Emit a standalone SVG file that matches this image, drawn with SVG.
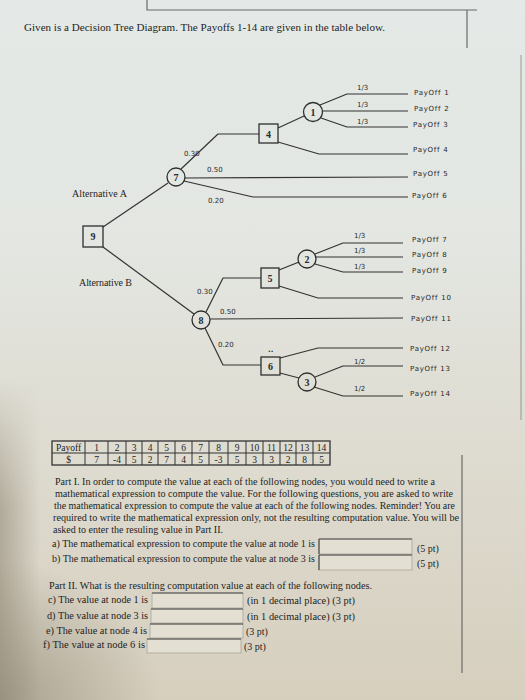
<svg xmlns="http://www.w3.org/2000/svg" width="525" height="700" viewBox="0 0 525 700">
<defs>
<linearGradient id="bg" x1="0" y1="0" x2="0" y2="1">
<stop offset="0" stop-color="#e4e9e7"/>
<stop offset="0.35" stop-color="#e3e6e1"/>
<stop offset="0.65" stop-color="#dedbd0"/>
<stop offset="1" stop-color="#d6cfbe"/>
</linearGradient>
<linearGradient id="shadeL" x1="0" y1="0" x2="1" y2="0">
<stop offset="0" stop-color="#9e9684" stop-opacity="0.7"/>
<stop offset="1" stop-color="#9e9684" stop-opacity="0"/>
</linearGradient>
<linearGradient id="fadeV" x1="0" y1="0" x2="0" y2="1">
<stop offset="0" stop-color="#fff" stop-opacity="0"/>
<stop offset="0.4" stop-color="#fff" stop-opacity="1"/>
<stop offset="1" stop-color="#fff" stop-opacity="1"/>
</linearGradient>
<mask id="m" maskUnits="userSpaceOnUse" x="0" y="380" width="40" height="320">
<rect x="0" y="380" width="40" height="320" fill="url(#fadeV)"/>
</mask>
<radialGradient id="shadeBL" cx="0" cy="1" r="1">
<stop offset="0" stop-color="#8f8775" stop-opacity="0.65"/>
<stop offset="1" stop-color="#8f8775" stop-opacity="0"/>
</radialGradient>
<style>
.ln{fill:none;stroke:#333;stroke-width:1.2;stroke-linejoin:round}
.nd{fill:none;stroke:#2e2e2e;stroke-width:1.3}
.nt{font-family:"Liberation Serif",serif;font-size:10px;font-weight:bold;fill:#2a2a2a;text-anchor:middle}
.po{font-family:"DejaVu Sans",sans-serif;font-size:7px;letter-spacing:0.75px;fill:#262626}
.pr{font-family:"DejaVu Sans",sans-serif;font-size:7px;fill:#2a2a2a}
.tx{font-family:"Liberation Serif",serif;font-size:10px;fill:#1e1e1e}
.tb{font-family:"Liberation Serif",serif;font-size:9.5px;fill:#1e1e1e;text-anchor:middle}
.box{fill:#e3dfd3;stroke:#a9a59a;stroke-width:0.8}
.boxt{stroke:#4a4a4a;stroke-width:1.2}
.edge{stroke:#6a6a66;stroke-width:1.2;fill:none}
</style>
</defs>
<rect width="525" height="700" fill="url(#bg)"/>
<rect x="0" y="380" width="40" height="320" fill="url(#shadeL)" mask="url(#m)"/>
<rect x="0" y="560" width="160" height="140" fill="url(#shadeBL)"/>
<g id="page-edges">
<polyline class="edge" points="147,0 147,10 477,10"/>
<line class="edge" x1="467" y1="10" x2="467" y2="48"/>
<line class="edge" x1="521" y1="55" x2="521" y2="420" stroke-opacity="0.5"/>
<line class="edge" x1="462" y1="455" x2="462" y2="673"/>
</g>
<text class="tx" x="24" y="30.5" font-size="10.5" textLength="361" lengthAdjust="spacingAndGlyphs">Given is a Decision Tree Diagram. The Payoffs 1-14 are given in the table below.</text>

<g id="connectors">
<polyline class="ln" points="103,227 168,183"/>
<polyline class="ln" points="103,247 194,314"/>
<polyline class="ln" points="181,169 218,134 259,134"/>
<polyline class="ln" points="278,128 304,116"/>
<polyline class="ln" points="320,105 347,94 408,94"/>
<polyline class="ln" points="323,111 408,111"/>
<polyline class="ln" points="321,118 347,127 408,127"/>
<polyline class="ln" points="278,142 319,154 408,154"/>
<polyline class="ln" points="185,178 408,177"/>
<polyline class="ln" points="184,181 253,197 408,197"/>
<polyline class="ln" points="206,312 223,278 261,278"/>
<polyline class="ln" points="279,270 299,262"/>
<polyline class="ln" points="315,254 343,243 403,243"/>
<polyline class="ln" points="316,257 403,257"/>
<polyline class="ln" points="315,264 343,272 403,272"/>
<polyline class="ln" points="279,286 318,298 403,298"/>
<polyline class="ln" points="210,319 403,318"/>
<polyline class="ln" points="205,328 223,365 261,365"/>
<polyline class="ln" points="280,358 318,348 403,348"/>
<polyline class="ln" points="280,373 299,378"/>
<polyline class="ln" points="315,377 343,366 403,366"/>
<polyline class="ln" points="314,387 343,396 403,396"/>
</g>

<g id="edge-labels">
<text class="pr" x="357" y="90">1/3</text>
<text class="pr" x="357" y="107">1/3</text>
<text class="pr" x="357" y="124">1/3</text>
<text class="pr" x="184" y="156">0.30</text>
<text class="pr" x="207" y="172">0.50</text>
<text class="pr" x="208" y="203">0.20</text>
<text class="pr" x="354" y="238">1/3</text>
<text class="pr" x="354" y="253">1/3</text>
<text class="pr" x="354" y="269">1/3</text>
<text class="pr" x="197" y="294">0.30</text>
<text class="pr" x="220" y="314">0.50</text>
<text class="pr" x="218" y="347">0.20</text>
<text class="pr" x="354" y="364">1/2</text>
<text class="pr" x="354" y="391">1/2</text>
<text class="tx" x="72" y="197" font-size="9" textLength="55">Alternative A</text>
<text class="tx" x="79" y="286" font-size="9" textLength="53">Alternative B</text>
<text class="pr" x="268" y="352" font-weight="bold">..</text>
</g>

<g id="payoffs">
<text class="po" x="414" y="94.5">PayOff 1</text>
<text class="po" x="414" y="110.5">PayOff 2</text>
<text class="po" x="413" y="126.5">PayOff 3</text>
<text class="po" x="413" y="151.5">PayOff 4</text>
<text class="po" x="413" y="175.5">PayOff 5</text>
<text class="po" x="412" y="197.5">PayOff 6</text>
<text class="po" x="412" y="241.5">PayOff 7</text>
<text class="po" x="412" y="256.5">PayOff 8</text>
<text class="po" x="412" y="272.5">PayOff 9</text>
<text class="po" x="411" y="299.5">PayOff 10</text>
<text class="po" x="411" y="320.5">PayOff 11</text>
<text class="po" x="410" y="350.5">PayOff 12</text>
<text class="po" x="410" y="370.5">PayOff 13</text>
<text class="po" x="410" y="395.5">PayOff 14</text>
</g>

<g id="node9"><rect class="nd" x="83" y="226" width="20" height="21"/><text class="nt" x="93" y="240">9</text></g>
<g id="node7"><circle class="nd" cx="176" cy="177" r="9"/><text class="nt" x="176" y="180.5">7</text></g>
<g id="node4"><rect class="nd" x="259" y="124" width="19" height="19"/><text class="nt" x="268.5" y="137.5">4</text></g>
<g id="node1"><circle class="nd" cx="313" cy="112" r="9.5"/><text class="nt" x="313" y="115.5">1</text></g>
<g id="node8"><circle class="nd" cx="201" cy="320" r="9"/><text class="nt" x="201" y="323.5">8</text></g>
<g id="node5"><rect class="nd" x="261" y="268" width="18" height="20"/><text class="nt" x="270" y="282">5</text></g>
<g id="node2"><circle class="nd" cx="307" cy="259" r="9"/><text class="nt" x="307" y="262.5">2</text></g>
<g id="node6"><rect class="nd" x="261" y="357" width="19" height="18"/><text class="nt" x="270.5" y="370">6</text></g>
<g id="node3"><circle class="nd" cx="307" cy="382" r="9"/><text class="nt" x="307" y="385.5">3</text></g>

<g id="table">
<rect x="52" y="441" width="278" height="24" fill="none" stroke="#333" stroke-width="1.3"/>
<line x1="52" y1="453" x2="330" y2="453" stroke="#333" stroke-width="1"/>
<g stroke="#333" stroke-width="1">
<line x1="85" y1="441" x2="85" y2="465"/><line x1="108" y1="441" x2="108" y2="465"/>
<line x1="126" y1="441" x2="126" y2="465"/><line x1="142" y1="441" x2="142" y2="465"/>
<line x1="158" y1="441" x2="158" y2="465"/><line x1="175" y1="441" x2="175" y2="465"/>
<line x1="192" y1="441" x2="192" y2="465"/><line x1="209" y1="441" x2="209" y2="465"/>
<line x1="228" y1="441" x2="228" y2="465"/><line x1="246" y1="441" x2="246" y2="465"/>
<line x1="263" y1="441" x2="263" y2="465"/><line x1="280" y1="441" x2="280" y2="465"/>
<line x1="296" y1="441" x2="296" y2="465"/><line x1="313" y1="441" x2="313" y2="465"/>
</g>
<text class="tb" x="68.5" y="450.5">Payoff</text>
<text class="tb" x="96.5" y="450.5">1</text><text class="tb" x="117" y="450.5">2</text>
<text class="tb" x="134" y="450.5">3</text><text class="tb" x="150" y="450.5">4</text>
<text class="tb" x="166.5" y="450.5">5</text><text class="tb" x="183.5" y="450.5">6</text>
<text class="tb" x="200.5" y="450.5">7</text><text class="tb" x="218.5" y="450.5">8</text>
<text class="tb" x="237" y="450.5">9</text><text class="tb" x="254.5" y="450.5">10</text>
<text class="tb" x="271.5" y="450.5">11</text><text class="tb" x="288" y="450.5">12</text>
<text class="tb" x="304.5" y="450.5">13</text><text class="tb" x="321.5" y="450.5">14</text>
<text class="tb" x="68.5" y="462.5">$</text>
<text class="tb" x="96.5" y="462.5">7</text><text class="tb" x="117" y="462.5">-4</text>
<text class="tb" x="134" y="462.5">5</text><text class="tb" x="150" y="462.5">2</text>
<text class="tb" x="166.5" y="462.5">7</text><text class="tb" x="183.5" y="462.5">4</text>
<text class="tb" x="200.5" y="462.5">5</text><text class="tb" x="218.5" y="462.5">-3</text>
<text class="tb" x="237" y="462.5">5</text><text class="tb" x="254.5" y="462.5">3</text>
<text class="tb" x="271.5" y="462.5">3</text><text class="tb" x="288" y="462.5">2</text>
<text class="tb" x="304.5" y="462.5">8</text><text class="tb" x="321.5" y="462.5">5</text>
</g>

<g id="part1">
<text class="tx" x="55" y="485" textLength="380" lengthAdjust="spacingAndGlyphs">Part I. In order to compute the value at each of the following nodes, you would need to write a</text>
<text class="tx" x="55" y="497" textLength="398" lengthAdjust="spacingAndGlyphs">mathematical expression to compute the value. For the following questions, you are asked to write</text>
<text class="tx" x="54" y="509" textLength="401" lengthAdjust="spacingAndGlyphs">the mathematical expression to compute the value at each of the following nodes. Reminder! You are</text>
<text class="tx" x="53" y="521" textLength="406" lengthAdjust="spacingAndGlyphs">required to write the mathematical expression only, not the resulting computation value. You will be</text>
<text class="tx" x="53" y="533" textLength="170" lengthAdjust="spacingAndGlyphs">asked to enter the resuling value in Part II.</text>
<text class="tx" x="52" y="547" textLength="263" lengthAdjust="spacingAndGlyphs">a) The mathematical expression to compute the value at node 1 is</text>
<text class="tx" x="52" y="562" textLength="263" lengthAdjust="spacingAndGlyphs">b) The mathematical expression to compute the value at node 3 is</text>
<rect class="box" x="319" y="539" width="93" height="15"/><line class="boxt" x1="319" y1="539" x2="412" y2="539"/><line class="boxt" x1="319" y1="539" x2="319" y2="554" stroke-width="0.8"/>
<rect class="box" x="319" y="555" width="93" height="15"/><line class="boxt" x1="319" y1="555" x2="412" y2="555"/><line class="boxt" x1="319" y1="555" x2="319" y2="570" stroke-width="0.8"/>
<text class="tx" x="417" y="552">(5 pt)</text>
<text class="tx" x="417" y="567">(5 pt)</text>
</g>

<g id="part2">
<text class="tx" x="49" y="589" textLength="323" lengthAdjust="spacingAndGlyphs">Part II. What is the resulting computation value at each of the following nodes.</text>
<text class="tx" x="48" y="603" textLength="100" lengthAdjust="spacingAndGlyphs">c) The value at node 1 is</text>
<text class="tx" x="47" y="619" textLength="101" lengthAdjust="spacingAndGlyphs">d) The value at node 3 is</text>
<text class="tx" x="46" y="634" textLength="101" lengthAdjust="spacingAndGlyphs">e) The value at node 4 is</text>
<text class="tx" x="43" y="648" textLength="102" lengthAdjust="spacingAndGlyphs">f) The value at node 6 is</text>
<rect class="box" x="152" y="593" width="91" height="15"/><line class="boxt" x1="152" y1="593" x2="243" y2="593"/>
<rect class="box" x="151" y="609" width="92" height="14"/><line class="boxt" x1="151" y1="609" x2="243" y2="609"/>
<rect class="box" x="150" y="624" width="93" height="14"/><line class="boxt" x1="150" y1="624" x2="243" y2="624"/>
<rect class="box" x="147" y="639" width="94" height="14"/><line class="boxt" x1="147" y1="639" x2="241" y2="639"/>
<text class="tx" x="247" y="604" textLength="108" lengthAdjust="spacingAndGlyphs">(in 1 decimal place) (3 pt)</text>
<text class="tx" x="247" y="620" textLength="108" lengthAdjust="spacingAndGlyphs">(in 1 decimal place) (3 pt)</text>
<text class="tx" x="246" y="635">(3 pt)</text>
<text class="tx" x="244" y="650">(3 pt)</text>
</g>
</svg>
